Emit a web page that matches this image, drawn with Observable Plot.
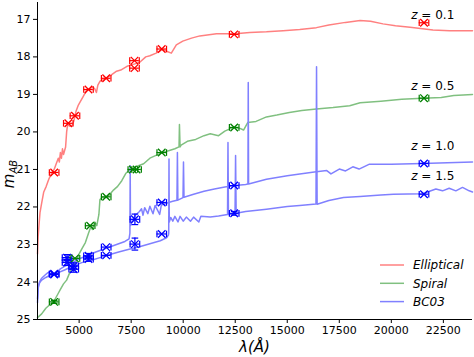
<!DOCTYPE html>
<html><head><meta charset="utf-8">
<script src="https://cdn.jsdelivr.net/npm/d3@7"></script>
<script src="https://cdn.jsdelivr.net/npm/@observablehq/plot@0.6"></script>
<style>body{margin:0;background:#fff} svg{display:block}</style>
</head><body><div id="chart"></div>
<script>
// ---- Data ----
const seriesNames = ["Elliptical", "Spiral", "BC03"];
const redshiftLabels = ["0.1", "0.5", "1.0", "1.5"];
const redshiftLabelLam = [20980, 20980, 20980, 20980];
const redshiftLabelMag = [17.0, 18.9, 20.5, 21.3];
const xTicks = [5000, 7500, 10000, 12500, 15000, 17500, 20000, 22500];
const yTicks = [17, 18, 19, 20, 21, 22, 23, 24, 25];

// Elliptical, z = 0.1
const ellLam = [3000,3030,3070,3120,3200,3300,3420,3550,3680,3800,3900,4000,4050,4100,4150,4200,4250,4300,4350,4400,4450,4550,4650,4750,4850,4950,5050,5200,5350,5500,5650,5750,5830,5900,6000,6200,6500,6800,7000,7300,7600,7900,8200,8400,8700,9000,9200,9430,9670,9980,10400,10800,11600,12500,13200,14000,14800,15600,16400,17000,17800,18500,19000,19600,20200,20900,21500,22000,22800,23900];
const ellMag = [23.25,22.8,22.5,22.15,21.9,21.6,21.45,21.25,21.1,21.0,20.85,20.7,20.8,20.55,20.7,20.45,20.6,20.5,20.4,20.0,19.8,19.85,19.85,19.7,19.45,19.3,19.2,19.05,18.9,18.85,18.8,18.85,18.95,18.75,18.65,18.6,18.5,18.38,18.35,18.25,18.2,18.15,18.0,17.97,17.9,17.8,17.85,17.9,17.68,17.58,17.5,17.44,17.38,17.38,17.35,17.33,17.3,17.27,17.22,17.15,17.08,17.03,17.05,17.12,17.17,17.21,17.25,17.28,17.3,17.3];

// Spiral, z = 0.5
const spiLam = [3000,3200,3400,3600,3800,4000,4100,4250,4400,4550,4700,4850,5000,5150,5300,5450,5550,5650,5750,5850,5950,6000,6100,6300,6500,6650,6850,7050,7250,7350,7450,7650,7850,8100,8400,8800,9000,9300,9600,9800,9820,9850,9900,10200,10600,11000,11300,11700,12000,12400,12700,12900,13100,13500,14000,14500,15100,15700,16400,17200,18000,18500,19500,20500,21500,22400,23000,23900];
const spiMag = [24.95,24.85,24.7,24.6,24.5,24.3,24.2,24.05,23.95,23.75,23.6,23.45,23.25,23.1,22.95,22.7,22.55,22.6,22.4,22.5,22.2,21.8,21.75,21.75,21.65,21.55,21.45,21.3,21.1,21.05,21.0,20.95,20.9,20.85,20.7,20.6,20.55,20.5,20.45,20.4,19.8,20.4,20.35,20.25,20.2,20.1,20.05,20.1,19.98,19.88,19.9,19.95,19.75,19.72,19.6,19.55,19.48,19.43,19.39,19.35,19.3,19.22,19.18,19.13,19.1,19.08,19.03,19.0];

// BC03, z = 1.0
const bc1Lam = [3000,3040,3100,3200,3350,3500,3650,3750,3900,4100,4400,4700,5000,5400,5800,6300,6800,7200,7400,7440,7454,7468,7550,7700,7900,8000,8070,8150,8300,8400,8550,8650,8870,8950,9100,9300,9500,9700,9722,9745,9990,10014,10040,10500,11000,11500,12000,12500,13000,13110,13126,13142,14000,15000,15600,16300,16900,17100,17500,17800,18150,18450,18950,20000,21500,23900];
const bc1Mag = [24.45,24.1,24.0,23.9,23.82,23.75,23.72,23.8,23.75,23.65,23.55,23.48,23.38,23.3,23.2,23.1,23.0,22.92,22.85,22.7,20.9,22.5,22.38,22.22,22.12,22.05,22.22,22.02,22.18,21.98,22.18,21.96,22.2,21.95,21.92,21.88,21.85,21.82,20.55,21.82,21.75,20.8,21.74,21.66,21.58,21.52,21.47,21.43,21.4,21.39,18.68,21.39,21.26,21.17,21.12,21.07,21.03,21.12,20.99,21.04,20.93,20.99,20.86,20.86,20.84,20.8];

// BC03, z = 1.5
const bc2Lam = [3000,3040,3100,3200,3400,3600,3800,4000,4300,4600,4900,5200,5600,6000,6400,6900,7400,7900,8400,8900,9200,9290,9305,9318,9331,9400,9500,9600,9750,9850,10000,10150,10350,10500,10750,10850,11300,11700,12130,12152,12175,12490,12517,12545,13000,14000,15000,15600,16380,16407,16435,17000,17700,18500,19500,20100,21500,22140,22460,22780,23100,23420,23740,23900];
const bc2Mag = [24.55,24.15,24.02,23.95,23.88,23.82,23.8,23.75,23.68,23.6,23.53,23.47,23.42,23.35,23.28,23.2,23.13,23.06,22.98,22.9,22.82,22.75,22.7,20.72,22.4,22.28,22.38,22.25,22.4,22.25,22.38,22.27,22.38,22.27,22.4,22.25,22.27,22.24,22.2,20.28,22.2,22.18,20.63,22.17,22.12,22.06,21.99,21.96,21.92,18.26,21.93,21.83,21.75,21.72,21.68,21.66,21.65,21.52,21.57,21.5,21.57,21.48,21.57,21.6];

// Photometric points (lambda, magnitude, vertical half-errors)
const ellPtLam = [3800,4480,4800,5450,6300,7660,7660,8970,12450,21570];
const ellPtMag = [21.08,19.77,19.57,18.87,18.57,18.1,18.3,17.79,17.4,17.09];
const ellPtYErr = [0,0,0,0,0,0,0,0,0,0];
const spiPtLam = [3800,4800,5530,6300,7580,7760,8970,12450,21570];
const spiPtMag = [24.53,23.37,22.5,21.73,21.0,21.0,20.55,19.88,19.1];
const spiPtYErr = [0.04,0,0,0,0,0,0,0,0];
const bc1PtLam = [3800,4420,4740,5450,6300,7680,8970,12450,21570];
const bc1PtMag = [23.78,23.35,23.57,23.3,23.07,22.33,21.88,21.43,20.84];
const bc1PtYErr = [0,0.08,0.08,0.06,0,0.14,0,0,0];
const bc2PtLam = [3800,4420,4740,5450,6300,7680,8970,12450,21570];
const bc2PtMag = [23.8,23.48,23.66,23.39,23.29,22.99,22.72,22.17,21.66];
const bc2PtYErr = [0,0.08,0.08,0.06,0,0.16,0,0.05,0];
const ptXErr = 230;

// ---- Build tables ----
const lineColors = {Elliptical: "#ff8080", Spiral: "#80c080", BC03: "#8080ff"};
const ptColors = {Elliptical: "#ff0000", Spiral: "#008000", BC03: "#0000ff"};
const mkLine = (name, group, L, M) => L.map((l, i) => ({series: name, group, l, m: M[i]}));
const lines = [
  ...mkLine("Elliptical", "e", ellLam, ellMag),
  ...mkLine("Spiral", "s", spiLam, spiMag),
  ...mkLine("BC03", "b1", bc1Lam, bc1Mag),
  ...mkLine("BC03", "b2", bc2Lam, bc2Mag)
];
const mkPts = (name, L, M, YE) => L.map((l, i) => ({series: name, l, m: M[i], xe: ptXErr, ye: YE[i]}));
const pts = [
  ...mkPts("Elliptical", ellPtLam, ellPtMag, ellPtYErr),
  ...mkPts("Spiral", spiPtLam, spiPtMag, spiPtYErr),
  ...mkPts("BC03", bc1PtLam, bc1PtMag, bc1PtYErr),
  ...mkPts("BC03", bc2PtLam, bc2PtMag, bc2PtYErr)
];
const yPts = pts.filter(d => d.ye > 0);

const vCap = {draw(ctx, size) { const r = Math.sqrt(size / Math.PI); ctx.moveTo(0, -r); ctx.lineTo(0, r); }};
const hCap = {draw(ctx, size) { const r = Math.sqrt(size / Math.PI); ctx.moveTo(-r, 0); ctx.lineTo(r, 0); }};

const plot = Plot.plot({
  width: 474, height: 357,
  marginLeft: 37, marginRight: 2, marginTop: 2, marginBottom: 38,
  style: {fontFamily: "DejaVu Sans", fontSize: "11px", color: "#000", background: "#fff"},
  x: {domain: [3000, 23900]},
  y: {domain: [16.55, 25], reverse: true},
  marks: [
    Plot.line(lines, {x: "l", y: "m", z: "group", stroke: d => lineColors[d.series], strokeWidth: 1.5}),
    Plot.ruleY(pts, {y: "m", x1: d => d.l - d.xe, x2: d => d.l + d.xe, stroke: d => ptColors[d.series], strokeWidth: 1.2}),
    Plot.dot(pts, {x: d => d.l - d.xe, y: "m", symbol: vCap, r: 3.3, stroke: d => ptColors[d.series], fill: "none", strokeWidth: 1.2}),
    Plot.dot(pts, {x: d => d.l + d.xe, y: "m", symbol: vCap, r: 3.3, stroke: d => ptColors[d.series], fill: "none", strokeWidth: 1.2}),
    Plot.ruleX(yPts, {x: "l", y1: d => d.m - d.ye, y2: d => d.m + d.ye, stroke: d => ptColors[d.series], strokeWidth: 1.2}),
    Plot.dot(yPts, {x: "l", y: d => d.m - d.ye, symbol: hCap, r: 3.3, stroke: d => ptColors[d.series], fill: "none", strokeWidth: 1.2}),
    Plot.dot(yPts, {x: "l", y: d => d.m + d.ye, symbol: hCap, r: 3.3, stroke: d => ptColors[d.series], fill: "none", strokeWidth: 1.2}),
    Plot.dot(pts, {x: "l", y: "m", symbol: "times", r: 3.5, stroke: d => ptColors[d.series], strokeWidth: 1.3}),
    Plot.ruleX([3000], {stroke: "#000", strokeWidth: 1}),
    Plot.ruleY([25], {stroke: "#000", strokeWidth: 1}),
    Plot.axisX({ticks: xTicks, tickSize: 4, tickPadding: 3, tickFormat: d => String(d), label: null}),
    Plot.axisY({ticks: yTicks, tickSize: 4, tickPadding: 3, tickFormat: d => String(d), label: null})
  ]
});
document.getElementById("chart").appendChild(plot);

// ---- Annotations via the plot's own scales ----
const svg = d3.select(plot);
const sx = plot.scale("x"), sy = plot.scale("y");
redshiftLabels.forEach((z, i) => {
  const t = svg.append("text")
    .attr("x", sx.apply(redshiftLabelLam[i]))
    .attr("y", sy.apply(redshiftLabelMag[i]))
    .attr("text-anchor", "start")
    .attr("font-family", "DejaVu Sans").attr("font-size", 12).attr("fill", "#000");
  t.append("tspan").attr("font-style", "italic").text("z");
  t.append("tspan").text(" = " + z);
});

// Axis labels
svg.append("text").attr("x", 254.5).attr("y", 352).attr("text-anchor", "middle")
  .attr("font-family", "DejaVu Sans").attr("font-size", 15).attr("font-style", "italic").attr("fill", "#000")
  .text("λ(Å)");
const yl = svg.append("text").attr("transform", "translate(14,174) rotate(-90)").attr("text-anchor", "middle")
  .attr("font-family", "DejaVu Sans").attr("font-size", 15).attr("fill", "#000");
yl.append("tspan").attr("font-style", "italic").text("m");
yl.append("tspan").attr("font-style", "italic").attr("font-size", 10).attr("dy", 3).text("AB");

// Legend
seriesNames.forEach((name, i) => {
  const y = 265 + i * 18.3;
  svg.append("line").attr("x1", 380).attr("x2", 404).attr("y1", y).attr("y2", y)
    .attr("stroke", lineColors[name]).attr("stroke-width", 1.5);
  svg.append("text").attr("x", 413).attr("y", y + 4.3).attr("text-anchor", "start")
    .attr("font-family", "DejaVu Sans").attr("font-size", 12).attr("font-style", "italic").attr("fill", "#000")
    .text(name);
});
</script>
</body></html>
